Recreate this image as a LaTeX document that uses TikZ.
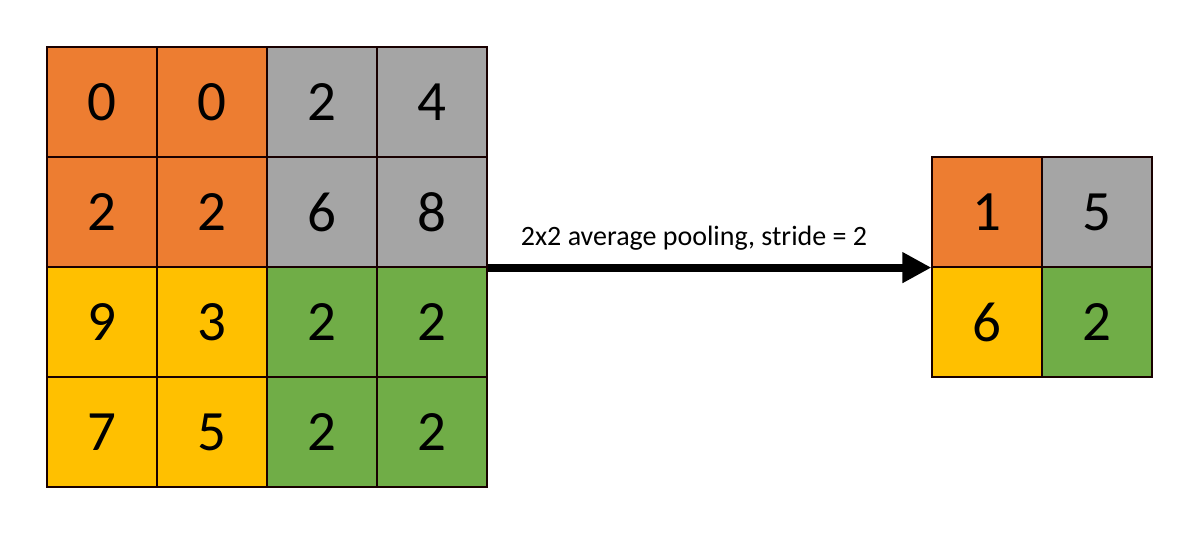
\documentclass[tikz,border=0pt]{standalone}
\usepackage{fontspec}
\setmainfont{Carlito}
\usetikzlibrary{arrows.meta}
\definecolor{corange}{HTML}{ED7D31}
\definecolor{cgray}{HTML}{A5A5A5}
\definecolor{cyellow}{HTML}{FFC000}
\definecolor{cgreen}{HTML}{70AD47}
\begin{document}
\begin{tikzpicture}[x=1pt,y=-1pt,
  cell/.style={draw=black!90!red, line width=1.2pt, minimum width=110pt, minimum height=110pt, inner sep=0pt, anchor=center, font=\fontsize{57}{60}\selectfont},
  lbl/.style={font=\fontsize{28}{30}\selectfont, inner sep=0pt}]
\useasboundingbox (0,0) rectangle (1200,535);
\fill[white] (0,0) rectangle (1200,535);
% left grid
\foreach \r/\c/\v/\col in {0/0/0/corange,0/1/0/corange,0/2/2/cgray,0/3/4/cgray,
  1/0/2/corange,1/1/2/corange,1/2/6/cgray,1/3/8/cgray,
  2/0/9/cyellow,2/1/3/cyellow,2/2/2/cgreen,2/3/2/cgreen,
  3/0/7/cyellow,3/1/5/cyellow,3/2/2/cgreen,3/3/2/cgreen}{
  \node[cell, fill=\col] (a\r\c) at ({102+110*\c},{102+110*\r}) {\v};
}
% right grid
\foreach \r/\c/\v/\col in {0/0/1/corange,0/1/5/cgray,1/0/6/cyellow,1/1/2/cgreen}{
  \node[cell, fill=\col] (b\r\c) at ({987+110*\c},{212+110*\r}) {\v};
}
\coordinate (s) at (a13.south east);
\coordinate (e) at (b00.south west);
\draw[line width=8pt, -{Triangle[length=29pt,width=29pt]}] (s) -- (e);
\node[lbl, anchor=base] (t) at (694,245) {2x2 average pooling, stride = 2};
\end{tikzpicture}
\end{document}
